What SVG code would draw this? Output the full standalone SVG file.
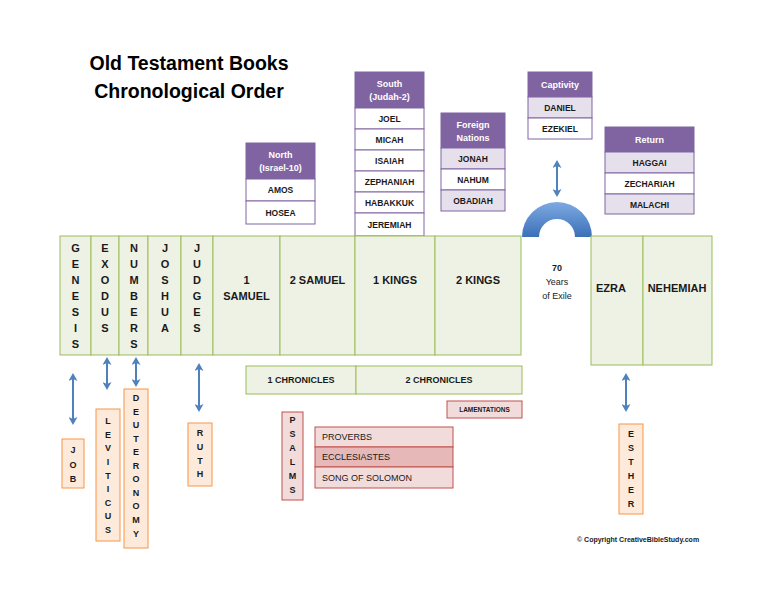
<svg xmlns="http://www.w3.org/2000/svg" width="768" height="594" viewBox="0 0 768 594">
<style>
text{font-family:"Liberation Sans",Arial,sans-serif;font-weight:bold;fill:#1a1a1a;text-anchor:middle}
.title{font-size:19.5px;fill:#000}
.t{font-size:11px}
.s{font-size:8.5px}
.c{font-size:9px}
.h{font-size:9px;fill:#fff}
.tl{fill:#eef2e5;stroke:#9bbb59;stroke-width:1}
.hd{fill:#8064a2;stroke:#8064a2}
.rw{fill:#fff;stroke:#8064a2;stroke-width:1}
.rl{fill:#e6e0ec;stroke:#8064a2;stroke-width:1}
.or{fill:#fdeada;stroke:#f79646;stroke-width:1}
.pk{fill:#f2dcdb;stroke:#c0504d;stroke-width:1}
.pd{fill:#e6b9b8;stroke:#c0504d;stroke-width:1}
.ar{stroke:#4f81bd;stroke-width:2;fill:none;marker-start:url(#ah);marker-end:url(#ah)}
.l{text-anchor:start}
</style>
<defs>
<marker id="ah" markerWidth="9" markerHeight="9" refX="6" refY="4.5" orient="auto-start-reverse" markerUnits="userSpaceOnUse">
<path d="M0,0 L8,4.5 L0,9 L2,4.5 Z" fill="#4f81bd"/>
</marker>
<linearGradient id="bg" x1="0" y1="0" x2="0" y2="1">
<stop offset="0" stop-color="#7eaae2"/>
<stop offset="1" stop-color="#3b70b8"/>
</linearGradient>
</defs>
<rect width="768" height="594" fill="#fff"/>

<g id="title">
<text class="title" x="189" y="70">Old Testament Books</text>
<text class="title" x="189" y="98">Chronological Order</text>
</g>

<g id="north">
<rect class="hd" x="246" y="143" width="69" height="36"/>
<text class="h" x="280.5" y="158">North</text>
<text class="h" x="280.5" y="171">(Israel-10)</text>
<rect class="rw" x="246" y="179" width="69" height="22"/>
<text class="s" x="280.5" y="193">AMOS</text>
<rect class="rw" x="246" y="201" width="69" height="23"/>
<text class="s" x="280.5" y="216">HOSEA</text>
</g>

<g id="south">
<rect class="hd" x="355" y="72" width="69" height="36"/>
<text class="h" x="389.5" y="87">South</text>
<text class="h" x="389.5" y="100">(Judah-2)</text>
<rect class="rw" x="355" y="108" width="69" height="21"/>
<text class="s" x="389.5" y="122">JOEL</text>
<rect class="rw" x="355" y="129" width="69" height="21"/>
<text class="s" x="389.5" y="143">MICAH</text>
<rect class="rw" x="355" y="150" width="69" height="21"/>
<text class="s" x="389.5" y="164">ISAIAH</text>
<rect class="rw" x="355" y="171" width="69" height="21"/>
<text class="s" x="389.5" y="185">ZEPHANIAH</text>
<rect class="rw" x="355" y="192" width="69" height="21"/>
<text class="s" x="389.5" y="206">HABAKKUK</text>
<rect class="rw" x="355" y="213" width="69" height="23"/>
<text class="s" x="389.5" y="228">JEREMIAH</text>
</g>

<g id="foreign">
<rect class="hd" x="441" y="113" width="64" height="35"/>
<text class="h" x="473" y="128">Foreign</text>
<text class="h" x="473" y="141">Nations</text>
<rect class="rl" x="441" y="148" width="64" height="21"/>
<text class="s" x="473" y="162">JONAH</text>
<rect class="rw" x="441" y="169" width="64" height="21"/>
<text class="s" x="473" y="183">NAHUM</text>
<rect class="rl" x="441" y="190" width="64" height="21"/>
<text class="s" x="473" y="204">OBADIAH</text>
</g>

<g id="captivity">
<rect class="hd" x="528" y="72" width="64" height="25"/>
<text class="h" x="560" y="88">Captivity</text>
<rect class="rl" x="528" y="97" width="64" height="21"/>
<text class="s" x="560" y="111">DANIEL</text>
<rect class="rw" x="528" y="118" width="64" height="21"/>
<text class="s" x="560" y="132">EZEKIEL</text>
</g>

<g id="return">
<rect class="hd" x="605" y="127" width="89" height="25"/>
<text class="h" x="649.5" y="143">Return</text>
<rect class="rl" x="605" y="152" width="89" height="21"/>
<text class="s" x="649.5" y="166">HAGGAI</text>
<rect class="rw" x="605" y="173" width="89" height="21"/>
<text class="s" x="649.5" y="187">ZECHARIAH</text>
<rect class="rl" x="605" y="194" width="89" height="20"/>
<text class="s" x="649.5" y="208">MALACHI</text>
</g>

<g id="arch">
<path d="M522,237 A35,35 0 0 1 592,237 L575,237 A18,18 0 0 0 539,237 Z" fill="url(#bg)"/>
</g>

<g id="timeline">
<rect class="tl" x="60" y="236" width="31" height="119"/>
<text class="t"><tspan x="75.5" y="252">G</tspan><tspan x="75.5" y="268">E</tspan><tspan x="75.5" y="284">N</tspan><tspan x="75.5" y="300">E</tspan><tspan x="75.5" y="316">S</tspan><tspan x="75.5" y="332">I</tspan><tspan x="75.5" y="348">S</tspan></text>
<rect class="tl" x="91" y="236" width="28" height="119"/>
<text class="t"><tspan x="105" y="252">E</tspan><tspan x="105" y="268">X</tspan><tspan x="105" y="284">O</tspan><tspan x="105" y="300">D</tspan><tspan x="105" y="316">U</tspan><tspan x="105" y="332">S</tspan></text>
<rect class="tl" x="119" y="236" width="29" height="119"/>
<text class="t"><tspan x="134" y="252">N</tspan><tspan x="134" y="268">U</tspan><tspan x="134" y="284">M</tspan><tspan x="134" y="300">B</tspan><tspan x="134" y="316">E</tspan><tspan x="134" y="332">R</tspan><tspan x="134" y="348">S</tspan></text>
<rect class="tl" x="148" y="236" width="33" height="119"/>
<text class="t"><tspan x="165" y="252">J</tspan><tspan x="165" y="268">O</tspan><tspan x="165" y="284">S</tspan><tspan x="165" y="300">H</tspan><tspan x="165" y="316">U</tspan><tspan x="165" y="332">A</tspan></text>
<rect class="tl" x="181" y="236" width="32" height="119"/>
<text class="t"><tspan x="197" y="252">J</tspan><tspan x="197" y="268">U</tspan><tspan x="197" y="284">D</tspan><tspan x="197" y="300">G</tspan><tspan x="197" y="316">E</tspan><tspan x="197" y="332">S</tspan></text>
<rect class="tl" x="213" y="236" width="67" height="119"/>
<text class="t"><tspan x="246.5" y="284">1</tspan><tspan x="246.5" y="300">SAMUEL</tspan></text>
<rect class="tl" x="280" y="236" width="75" height="119"/>
<text class="t" x="317.5" y="284">2 SAMUEL</text>
<rect class="tl" x="355" y="236" width="80" height="119"/>
<text class="t" x="395" y="284">1 KINGS</text>
<rect class="tl" x="435" y="236" width="86" height="119"/>
<text class="t" x="478" y="284">2 KINGS</text>
<text class="c" style="font-weight:normal"><tspan x="557" y="271" style="font-weight:bold">70</tspan><tspan x="557" y="285">Years</tspan><tspan x="557" y="299">of Exile</tspan></text>
<rect class="tl" x="591" y="236" width="52" height="129"/>
<text class="t" x="611" y="292">EZRA</text>
<rect class="tl" x="643" y="236" width="69" height="129"/>
<text class="t" x="677" y="292">NEHEMIAH</text>
</g>

<g id="chronicles">
<rect class="tl" x="246" y="366" width="110" height="28"/>
<text class="c" x="301" y="383">1 CHRONICLES</text>
<rect class="tl" x="356" y="366" width="166" height="28"/>
<text class="c" x="439" y="383">2 CHRONICLES</text>
</g>

<g id="lamentations">
<rect class="pk" x="447" y="401" width="75" height="17"/>
<text x="484.5" y="412" style="font-size:6.5px">LAMENTATIONS</text>
</g>

<g id="psalms">
<rect class="pk" x="282" y="412" width="21" height="88"/>
<text class="c"><tspan x="292.5" y="423">P</tspan><tspan x="292.5" y="437">S</tspan><tspan x="292.5" y="451">A</tspan><tspan x="292.5" y="465">L</tspan><tspan x="292.5" y="479">M</tspan><tspan x="292.5" y="493">S</tspan></text>
</g>

<g id="wisdom">
<rect class="pk" x="315" y="427" width="138" height="20"/>
<text class="c l" x="322" y="440" style="font-weight:normal">PROVERBS</text>
<rect class="pd" x="315" y="447" width="138" height="20"/>
<text class="c l" x="322" y="460" style="font-weight:normal">ECCLESIASTES</text>
<rect class="pk" x="315" y="467" width="138" height="21"/>
<text class="c l" x="322" y="481" style="font-weight:normal">SONG OF SOLOMON</text>
</g>

<g id="job">
<rect class="or" x="62" y="439" width="22" height="49"/>
<text class="c"><tspan x="73" y="453">J</tspan><tspan x="73" y="468">O</tspan><tspan x="73" y="482">B</tspan></text>
</g>

<g id="leviticus">
<rect class="or" x="96" y="409" width="24" height="132"/>
<text class="c"><tspan x="108" y="424">L</tspan><tspan x="108" y="438">E</tspan><tspan x="108" y="451">V</tspan><tspan x="108" y="465">I</tspan><tspan x="108" y="479">T</tspan><tspan x="108" y="492">I</tspan><tspan x="108" y="506">C</tspan><tspan x="108" y="519">U</tspan><tspan x="108" y="533">S</tspan></text>
</g>

<g id="deuteronomy">
<rect class="or" x="124" y="389" width="24" height="159"/>
<text class="c"><tspan x="136" y="401">D</tspan><tspan x="136" y="415">E</tspan><tspan x="136" y="428">U</tspan><tspan x="136" y="442">T</tspan><tspan x="136" y="455">E</tspan><tspan x="136" y="469">R</tspan><tspan x="136" y="482">O</tspan><tspan x="136" y="496">N</tspan><tspan x="136" y="509">O</tspan><tspan x="136" y="523">M</tspan><tspan x="136" y="537">Y</tspan></text>
</g>

<g id="ruth">
<rect class="or" x="188" y="423" width="24" height="63"/>
<text class="c"><tspan x="200" y="436">R</tspan><tspan x="200" y="450">U</tspan><tspan x="200" y="464">T</tspan><tspan x="200" y="477">H</tspan></text>
</g>

<g id="esther">
<rect class="or" x="619" y="424" width="24" height="90"/>
<text class="c"><tspan x="631" y="437">E</tspan><tspan x="631" y="451">S</tspan><tspan x="631" y="465">T</tspan><tspan x="631" y="479">H</tspan><tspan x="631" y="493">E</tspan><tspan x="631" y="507">R</tspan></text>
</g>

<g id="connectors">
<line class="ar" x1="557" y1="162" x2="557" y2="195"/>
<line class="ar" x1="73" y1="375" x2="73" y2="423"/>
<line class="ar" x1="107" y1="359" x2="107" y2="388"/>
<line class="ar" x1="136" y1="359" x2="136" y2="385"/>
<line class="ar" x1="199" y1="365" x2="199" y2="410"/>
<line class="ar" x1="626" y1="375" x2="626" y2="410"/>
</g>

<text x="577" y="542" class="l" style="font-size:7px">© Copyright CreativeBibleStudy.com</text>
</svg>
